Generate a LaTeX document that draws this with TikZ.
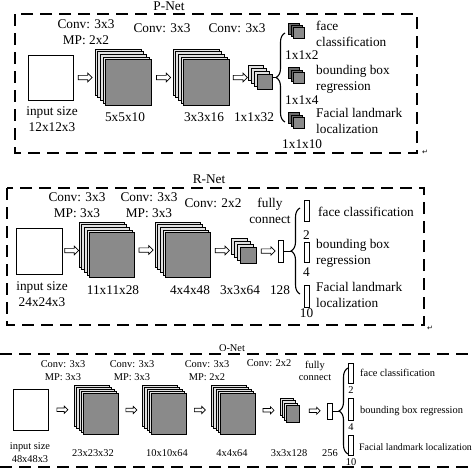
\documentclass[tikz,border=0pt]{standalone}
\usepackage{fontspec}
\setmainfont{Liberation Serif}
\newfontfamily\markfont{DejaVu Sans}
\usepackage{tikz}
\usetikzlibrary{calc,shapes.arrows,decorations.pathreplacing}
\definecolor{frontgray}{RGB}{138,138,138}
\definecolor{backgray}{RGB}{225,225,225}
\definecolor{cubegray}{RGB}{105,105,105}

\begin{document}
\begin{tikzpicture}[x=1pt,y=-1pt,
  lbl/.style={font=\fontsize{13.3}{16}\selectfont,inner sep=0pt,align=center},
  llbl/.style={lbl,anchor=west,align=left},
  olbl/.style={font=\fontsize{10.4}{12.5}\selectfont,inner sep=0pt,align=center},
  parmark/.style={font=\markfont\fontsize{7}{7}\selectfont,inner sep=0pt},
  netbox/.style={line width=1.3pt,dash pattern=on 12pt off 7pt},
  inbox/.style={draw,fill=white,line width=0.8pt,inner sep=0pt},
  stack/.style={inner sep=0pt},
  fcbar/.style={draw,fill=white,line width=0.8pt,inner sep=0pt,minimum width=5pt},
  blockarrow/.style={single arrow,draw,line width=0.7pt,inner sep=0pt,inner ysep=1.8pt,
    minimum height=14pt,single arrow head extend=2.2pt},
  sblockarrow/.style={blockarrow,inner ysep=1.4pt,minimum height=11pt,single arrow head extend=1.8pt},
  netbrace/.style={decorate,decoration={brace,amplitude=9pt},line width=1.1pt},
  link/.style={line width=1pt}]
\useasboundingbox (0,0) rectangle (474,474);

% P-Net
\draw[netbox] (15,14) rectangle (417,153);
\node[lbl,anchor=base] (ptitle) at (169,10.5) {P-Net};
\node[parmark] (pm1) at (425,152) {↵};
\node[inbox,minimum size=45pt] (pin1) at (50.5,77.5) {};
\node[stack,minimum width=57pt,minimum height=57pt] (p1) at (123.5,77.5) {};
\node[stack,minimum width=57pt,minimum height=57pt] (p2) at (201.5,77.5) {};
\node[stack,minimum width=24pt,minimum height=24pt] (p3) at (260.5,77.5) {};
\node[stack,minimum width=16pt,minimum height=16pt] (q1) at (296.5,31) {};
\node[stack,minimum width=16pt,minimum height=16pt] (q2) at (296.5,75.5) {};
\node[stack,minimum width=16pt,minimum height=16pt] (q3) at (296.5,120.5) {};
\path (pin1.east) -- (p1.west) node[midway,blockarrow] (pa1) {};
\path (p1.east) -- (p2.west) node[midway,blockarrow] (pa2) {};
\path (p2.east) -- (p3.west) node[midway,blockarrow] (pa3) {};
\coordinate (pbt) at (285,33);
\coordinate (pbb) at (285,122);
\coordinate (pbm) at (276,77.5);
\draw[netbrace] (pbb) -- (pbt);
\draw[link] (p3.east) -- (pbm);
\node[lbl] (pin) at (52,119.5) {input size\\12x12x3};
\node[lbl] (pc1) at (86,32) {Conv: 3x3\\MP: 2x2};
\node[lbl] (pc2) at (162,28) {Conv: 3x3};
\node[lbl] (pc3) at (237,28) {Conv: 3x3};
\node[lbl] (pd1) at (125,117) {5x5x10};
\node[lbl] (pd2) at (204,117) {3x3x16};
\node[lbl] (pd3) at (254,117) {1x1x32};
\node[llbl] (pt1) at (316,33.5) {face\\classification};
\node[llbl] (pt2) at (316,79.5) {bounding box\\regression};
\node[llbl] (pt3) at (316,120.5) {Facial landmark\\localization};
\node[llbl] (pn1) at (285,55) {1x1x2};
\node[llbl] (pn2) at (285,100) {1x1x4};
\node[llbl] (pn3) at (282,144) {1x1x10};

% R-Net
\draw[netbox] (7,188) rectangle (424,325);
\node[lbl,anchor=base] (rtitle) at (209,183) {R-Net};
\node[parmark] (pm2) at (430,328) {↵};
\node[inbox,minimum size=46pt] (rin1) at (39,251) {};
\node[stack,minimum width=56pt,minimum height=56pt] (r1) at (107,250) {};
\node[stack,minimum width=56pt,minimum height=56pt] (r2) at (183,250) {};
\node[stack,minimum width=25pt,minimum height=25pt] (r3) at (244,251) {};
\node[fcbar,minimum height=22pt] (rf) at (280.5,251) {};
\node[fcbar,minimum height=21pt] (rb1) at (306.5,210.5) {};
\node[fcbar,minimum height=20pt] (rb2) at (306.5,252.5) {};
\node[fcbar,minimum height=22pt] (rb3) at (306.5,296) {};
\path (rin1.east) -- (r1.west) node[midway,blockarrow] (ra1) {};
\path (r1.east) -- (r2.west) node[midway,blockarrow] (ra2) {};
\path (r2.east) -- (r3.west) node[midway,blockarrow] (ra3) {};
\path (r3.east) -- (rf.west) node[midway,blockarrow] (ra4) {};
\coordinate (rbt) at (300,208);
\coordinate (rbb) at (300,294);
\coordinate (rbm) at (291,251);
\draw[netbrace] (rbb) -- (rbt);
\draw[link] (rf.east) -- (rbm);
\node[lbl] (rin) at (42,294) {input size\\24x24x3};
\node[lbl] (rc1) at (77,205.5) {Conv: 3x3\\MP: 3x3};
\node[lbl] (rc2) at (149,205.5) {Conv: 3x3\\MP: 3x3};
\node[lbl] (rc3) at (213,203) {Conv: 2x2};
\node[lbl] (rfc) at (270,211) {fully\\connect};
\node[lbl] (rd1) at (113,290) {11x11x28};
\node[lbl] (rd2) at (190,290) {4x4x48};
\node[lbl] (rd3) at (240,290) {3x3x64};
\node[lbl] (rd4) at (280,290) {128};
\node[lbl] (rn1) at (306.5,235) {2};
\node[lbl] (rn2) at (306.5,272) {4};
\node[lbl] (rn3) at (306.5,313) {10};
\node[llbl] (rt1) at (318,212) {face classification};
\node[llbl] (rt2) at (316,253.5) {bounding box\\regression};
\node[llbl] (rt3) at (316,295) {Facial landmark\\localization};

% O-Net
\draw[netbox] (0,354) -- (474,354);
\draw[netbox] (0,467) -- (474,467);
\node[olbl,anchor=base] (otitle) at (232,351) {O-Net};
\node[inbox,minimum width=35pt,minimum height=41pt] (oin1) at (30.5,409.5) {};
\node[stack,minimum width=43.5pt,minimum height=49.5pt] (o1) at (96.5,410) {};
\node[stack,minimum width=43.5pt,minimum height=49.5pt] (o2) at (164.5,410) {};
\node[stack,minimum width=43.5pt,minimum height=49.5pt] (o3) at (233.5,410) {};
\node[stack,minimum width=20pt,minimum height=24pt] (o4) at (290,410.5) {};
\node[fcbar,minimum width=4.5pt,minimum height=16pt] (of) at (330,411) {};
\node[fcbar,minimum width=4.5pt,minimum height=20pt] (ob1) at (351,373) {};
\node[fcbar,minimum width=4.5pt,minimum height=22pt] (ob2) at (351,409) {};
\node[fcbar,minimum width=4.5pt,minimum height=20pt] (ob3) at (351,445) {};
\path (oin1.east) -- (o1.west) node[midway,sblockarrow] (oa1) {};
\path (o1.east) -- (o2.west) node[midway,sblockarrow] (oa2) {};
\path (o2.east) -- (o3.west) node[midway,sblockarrow] (oa3) {};
\path (o3.east) -- (o4.west) node[midway,sblockarrow] (oa4) {};
\path (o4.east) -- (of.west) node[midway,sblockarrow] (oa5) {};
\coordinate (obt) at (348,368);
\coordinate (obb) at (348,454);
\coordinate (obm) at (339,411);
\draw[netbrace] (obb) -- (obt);
\draw[link] (of.east) -- (obm);
\node[olbl] (oin) at (30,452.5) {input size\\48x48x3};
\node[olbl] (oc1) at (63,370.5) {Conv: 3x3\\MP: 3x3};
\node[olbl] (oc2) at (132,370.5) {Conv: 3x3\\MP: 3x3};
\node[olbl] (oc3) at (207,370.5) {Conv: 3x3\\MP: 2x2};
\node[olbl] (oc4) at (269,363) {Conv: 2x2};
\node[olbl] (ofc) at (315,371) {fully\\connect};
\node[olbl] (od1) at (93,453) {23x23x32};
\node[olbl] (od2) at (167,453) {10x10x64};
\node[olbl] (od3) at (232,453) {4x4x64};
\node[olbl] (od4) at (289,453) {3x3x128};
\node[olbl] (od5) at (330,453) {256};
\node[olbl] (on1) at (351,390) {2};
\node[olbl] (on2) at (351,427) {4};
\node[olbl] (on3) at (351,462) {10};
\node[olbl,anchor=west] (ot1) at (360,373) {face classification};
\node[olbl,anchor=west] (ot2) at (360,411) {bounding box regression};
\node[olbl,anchor=west,font=\fontsize{9.9}{12}\selectfont] (ot3) at (359,447) {Facial landmark localization};

% feature map layers
\foreach \s/\w/\h/\d/\n/\c in {p1/46/46/11/4/backgray,p2/46/46/11/4/backgray,p3/15/15/9/3/backgray,
    q1/11/11/5/2/cubegray,q2/11/11/5/2/cubegray,q3/11/11/5/2/cubegray,
    r1/45/45/11/4/backgray,r2/45/45/11/4/backgray,r3/16/16/9/3/backgray,
    o1/35/41/8.5/4/backgray,o2/35/41/8.5/4/backgray,o3/35/41/8.5/4/backgray,o4/13/17/7/3/backgray}{
  \foreach \i in {1,...,\n}
    \draw[fill=\c,line width=0.6pt] ([shift={({(\i-1)*\d/\n},{(\i-1)*\d/\n})}]\s.north west) rectangle ++(\w,\h);
  \draw[fill=frontgray,line width=0.8pt] ([shift={(\d,\d)}]\s.north west) rectangle ++(\w,\h);
}
\end{tikzpicture}
\end{document}
